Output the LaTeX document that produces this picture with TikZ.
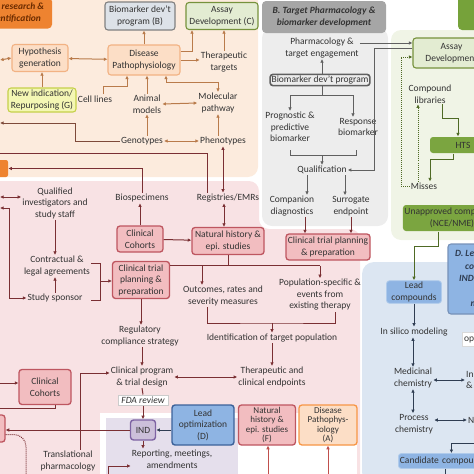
\documentclass[tikz,border=0pt]{standalone}
\usepackage{fontspec}
\setmainfont{Carlito}
\usepackage{xcolor}
\usetikzlibrary{arrows.meta,positioning}
\definecolor{peachbg}{HTML}{FCEBDD}
\definecolor{pinkbg}{HTML}{F8E2E4}
\definecolor{graybg}{HTML}{EDEDED}
\definecolor{greenbg}{HTML}{F0F4E6}
\definecolor{bluebg}{HTML}{DCE6F2}
\definecolor{lavbg}{HTML}{E5DFEC}
\definecolor{peachfill}{HTML}{FCDEC6}
\definecolor{peachline}{HTML}{F2B283}
\definecolor{orangehdr}{HTML}{EE8330}
\definecolor{orangeline}{HTML}{F79646}
\definecolor{orangetxt}{HTML}{6B2B00}
\definecolor{bgrayfill}{HTML}{DDE2E8}
\definecolor{bgrayline}{HTML}{808080}
\definecolor{grayhdr}{HTML}{A6A6A6}
\definecolor{assayfill}{HTML}{E3ECD2}
\definecolor{assayline}{HTML}{76923C}
\definecolor{greenhdr}{HTML}{76A23A}
\definecolor{yellowfill}{HTML}{F4F7B4}
\definecolor{yellowline}{HTML}{C5D04A}
\definecolor{pinkfill}{HTML}{F2BDC0}
\definecolor{pinkline}{HTML}{BE5660}
\definecolor{bluefill}{HTML}{8EB4E3}
\definecolor{blueline}{HTML}{3C629A}
\definecolor{indfill}{HTML}{CCC0DA}
\definecolor{indline}{HTML}{7E63A3}
\definecolor{dkgreen}{HTML}{7BA540}
\definecolor{txtdark}{HTML}{333333}
\definecolor{olinkc}{HTML}{B97B4B}
\definecolor{brownc}{HTML}{7E4A3A}
\definecolor{plinkc}{HTML}{7A2F33}
\definecolor{redc}{HTML}{C0504D}
\definecolor{glinkc}{HTML}{606060}
\definecolor{gnlinkc}{HTML}{4F6A25}
\definecolor{blinkc}{HTML}{2F3D52}

\begin{document}
\begin{tikzpicture}[
        x=1pt, y=-1pt,
        >={Latex[length=3.6pt,width=3.6pt]},
        font=\fontsize{9.5}{11.5}\selectfont,
        every node/.append style={text=txtdark},
        box/.style={draw, rounded corners=3pt, line width=1.1pt, align=center, inner sep=1.5pt},
        peachbox/.style={box, draw=peachline, fill=peachfill},
        pinkbox/.style={box, draw=pinkline, fill=pinkfill, line width=1.3pt},
        bluebox/.style={box, draw=blueline, fill=bluefill},
        greenbox/.style={box, draw=none, fill=dkgreen},
        item/.style={align=center, inner sep=1pt},
        hdr/.style={rounded corners=4pt, align=center, inner sep=3pt,
            font=\fontsize{9.5}{11.5}\selectfont\bfseries\itshape},
        olink/.style={->, line width=1pt, draw=olinkc},
        oboth/.style={olink, <->},
        plink/.style={->, line width=1pt, draw=plinkc},
        pboth/.style={plink, <->},
        glink/.style={->, line width=1pt, draw=glinkc},
        gnlink/.style={->, line width=1pt, draw=gnlinkc},
        blink/.style={->, line width=1pt, draw=blinkc},
        bboth/.style={blink, <->}
    ]
    \useasboundingbox (0,0) rectangle (474,474);
    \clip (0,0) rectangle (474,474);

    % background panels
    \fill[peachbg, rounded corners=10pt] (-10,-10) rectangle (258,177);
    \fill[pinkbg, rounded corners=10pt] (-10,181) -- (259,181) -- (259,229) -- (360,229) -- (360,484) -- (-10,484) -- cycle;
    \fill[graybg, rounded corners=10pt] (262,28) rectangle (388,226);
    \fill[greenbg, rounded corners=10pt] (391,30) rectangle (484,240);
    \fill[bluebg, rounded corners=12pt] (362,262) rectangle (484,484);
    \fill[white] (100,413) rectangle (357,484);
    \fill[lavbg] (106,418) rectangle (238,484);

    % A. disease research
    \node[hdr, fill=orangehdr, text=orangetxt, minimum width=101pt, minimum height=31pt] (hdrA) at (1.5,13) {A. Disease research \&\\target identification};
    \node[box, draw=bgrayline, fill=bgrayfill, minimum width=70pt, minimum height=28pt] (bioB) at (140,16) {Biomarker dev't\\program (B)};
    \node[box, draw=assayline, fill=assayfill, minimum width=72pt, minimum height=27pt] (assayC) at (222,16) {Assay\\Development (C)};
    \node[peachbox, minimum width=56pt, minimum height=27pt] (hyp) at (40,58) {Hypothesis\\generation};
    \node[peachbox, minimum width=72pt, minimum height=30pt] (dis) at (144,60) {Disease\\Pathophysiology};
    \node[item] (ther) at (224,62) {Therapeutic\\targets};
    \node[box, draw=yellowline, fill=yellowfill, minimum width=68pt, minimum height=24pt] (newG) at (42,100) {New indication/\\Repurposing (G)};
    \node[item] (cell) at (95,99) {Cell lines};
    \node[item] (anim) at (147,104) {Animal\\models};
    \node[item] (mol) at (218,103) {Molecular\\pathway};
    \node[item] (geno) at (142,141) {Genotypes};
    \node[item] (pheno) at (223,141) {Phenotypes};
    \coordinate (eL1) at (0,60);
    \coordinate (eG) at (0,123);

    \draw[oboth] (eL1) -- (hyp.west);
    \draw[oboth] (hyp) -- (dis);
    \draw[olink] (dis.north) -- (dis.north |- bioB.south);
    \draw[olink] ([yshift=9pt]dis.east) -| ([xshift=-30pt]assayC.south);
    \draw[olink] (dis.east) -- (dis.east -| ther.west);
    \draw[olink] (ther.north) -- (ther.north |- assayC.south);
    \draw[olink] (newG.north) -- (newG.north |- hyp.south);
    \draw[olink] ([xshift=8pt]cell.north) -- ++(0,-8) -| ([xshift=-17pt]dis.south);
    \draw[olink] (anim.north) -- (anim.north |- dis.south);
    \draw[oboth] ([xshift=22pt]dis.south) -- ++(0,7) -| (mol.north);
    \draw[oboth] (anim.east) -- (mol.west);
    \draw[olink] (geno.north -| anim) -- (anim.south);
    \draw[olink] (pheno.north -| mol) -- (mol.south);
    \draw[oboth] (geno) -- (pheno);
    \draw[olink, draw=brownc] (geno.west) -| ([xshift=75pt]eG) -- (eG);

    % F. clinical
    \node[fill=orangehdr, minimum width=18pt, minimum height=17pt, rounded corners=2pt] (orgL) at (-1,168.5) {};
    \node[item] (bio) at (142,198) {Biospecimens};
    \node[item] (reg) at (228,198) {Registries/EMRs};
    \node[item] (qual) at (55,203) {Qualified\\investigators and\\study staff};
    \node[item] (contr) at (57,266) {Contractual \&\\legal agreements};
    \node[item] (spons) at (55,298) {Study sponsor};
    \node[pinkbox, minimum width=46pt, minimum height=26pt] (cohA) at (140,239) {Clinical\\Cohorts};
    \node[pinkbox, minimum width=57pt, minimum height=37pt] (ctpA) at (141,280) {Clinical trial\\planning \&\\preparation};
    \node[pinkbox, minimum width=72pt, minimum height=27pt] (natA) at (228,241) {Natural history \&\\epi. studies};
    \node[pinkbox, minimum width=84pt, minimum height=26pt] (ctpB) at (328,247) {Clinical trial planning\\\& preparation};
    \node[item] (outc) at (223,296) {Outcomes, rates and\\severity measures};
    \node[item] (popn) at (320,295) {Population-specific \&\\events from\\existing therapy};
    \node[item] (ident) at (272,338) {Identification of target population};
    \node[item] (regc) at (140,336) {Regulatory\\compliance strategy};
    \node[item] (cprog) at (142,377) {Clinical program\\\& trial design};
    \node[item] (tend) at (272,377) {Therapeutic and\\clinical endpoints};
    \node[draw=gray!40, fill=white, inner sep=2pt, minimum width=50pt, font=\fontsize{9.5}{11.5}\selectfont\itshape] (fda) at (143,400) {FDA review};
    \node[pinkbox, minimum width=52pt, minimum height=35pt] (cohB) at (45,387) {Clinical\\Cohorts};
    \node[pinkbox, minimum width=18pt, minimum height=27pt] (stubP) at (-4,428.5) {};
    \node[item] (trans) at (68,461) {Translational\\pharmacology};
    \node[item] (repo) at (172,459) {Reporting, meetings,\\amendments};
    \node[box, draw=indline, fill=indfill, line width=1.4pt, minimum width=25pt, minimum height=20pt] (ind) at (143,430) {IND};
    \node[bluebox, line width=1.4pt, minimum width=62pt, minimum height=40pt] (leadD) at (203,425) {Lead\\optimization\\(D)};
    \node[pinkbox, minimum width=57pt, minimum height=40pt, font=\fontsize{9}{9.5}\selectfont] (natF) at (267,425) {Natural\\history \&\\epi. studies\\(F)};
    \node[box, draw=orangeline, fill=peachfill, line width=1.3pt, minimum width=58pt, minimum height=40pt, font=\fontsize{9}{9.5}\selectfont] (disA) at (328,425) {Disease\\Pathophys-\\iology\\(A)};
    \coordinate (eR) at (0,153);
    \coordinate (eQ) at (0,197);
    \coordinate (eS) at (0,208);
    \coordinate (eSx) at (9,208);
    \coordinate (bk) at (100,281);
    \coordinate (bus) at ([yshift=-5pt]ctpA.north east);
    \coordinate (jn) at (272,323);
    \coordinate (eC) at (0,383);
    \coordinate (eC2) at (0,408);
    \coordinate (eB) at (108,480);
    \coordinate (eD) at (26,480);
    \coordinate (eF) at (268,480);
    \coordinate (eA) at (328,480);

    \draw[plink, -] ([xshift=-21pt]reg.north) |- (eR);
    \draw[pboth] (pheno.south) -- (pheno.south |- reg.north);
    \draw[plink] (bio.north) |- (orgL.east);
    \draw[plink] (cohA.north) -- (cohA.north |- bio.south);
    \draw[plink] (cohA) -- (natA);
    \draw[pboth] ([xshift=-4pt]reg.south) -- ([xshift=-4pt]natA.north);
    \draw[pboth] (eQ) -- (eQ -| qual.west);
    \draw[pboth] (eS) -| (eSx |- spons.west) -- (spons.west);
    \draw[plink] (qual.south) -- (qual.south |- contr.north);
    \draw[plink] (spons.north) -- (spons.north |- contr.south);
    \draw[plink, -] (bk) ++(-9,-18) -| ++(9,37) -- ++(-9,0);
    \draw[plink] (bk) -- (ctpA.west |- bk);
    \draw[plink, -] (bus) -- (bus -| popn.north);
    \draw[plink, -] (natA.south) -- (natA.south |- bus);
    \draw[plink] (bus -| 202,0) -- (outc.north -| 202,0);
    \draw[plink] (bus -| popn.north) -- (popn.north);
    \draw[plink, -] ([xshift=-16pt]outc.south) |- (jn) -| ([xshift=15pt]popn.south);
    \draw[plink] (jn) -- (ident.north);
    \draw[plink] (ctpA.south) -- (ctpA.south |- regc.north);
    \draw[plink] (regc.south -| cprog) -- (cprog.north);
    \draw[plink] (ident.south) -- (ident.south |- tend.north);
    \draw[pboth] (cprog) -- (tend);
    \draw[plink, -] (cprog.south) -- (fda.north);
    \draw[plink] (fda.south) -- (ind.north);
    \draw[plink] (ind.south) -- (ind.south |- repo.north);
    \draw[plink] (ind.west) -- (stubP.east |- ind.west);
    \draw[blink] (leadD.west |- ind) -- (ind.east);
    \draw[plink] (eC) -- (cohB.west |- eC);
    \draw[plink, -] ([xshift=10pt]cohB.south) |- (eC2);
    \draw[plink] ([xshift=12pt]trans.north) |- ([yshift=4pt]cprog.west);
    \draw[plink] (eB) |- ([yshift=-7pt]repo.west);
    \draw[plink, -, densely dotted, rounded corners=12pt] ([yshift=-6pt]stubP.east) -| (eD);
    \draw[plink, draw=redc] (eF) -- (eF |- natF.south);
    \draw[plink, draw=redc] (eA) -- (eA |- disA.south);

    % B. target pharmacology
    \node[hdr, fill=grayhdr, minimum width=124pt, minimum height=32pt] (hdrB) at (324,17) {B. Target Pharmacology \&\\biomarker development};
    \node[item] (pharm) at (322,48) {Pharmacology \&\\target engagement};
    \node[box, draw=glinkc, fill=graybg!60!gray!30, line width=1.6pt] (bprog) at (320,80) {Biomarker dev't program};
    \node[item] (prog) at (290,127) {Prognostic \&\\predictive\\biomarker};
    \node[item] (resp) at (358,127) {Response\\biomarker};
    \node[item] (qualif) at (322,170) {Qualification};
    \node[item] (comp) at (292,206) {Companion\\diagnostics};
    \node[item] (surr) at (351,206) {Surrogate\\endpoint};
    \coordinate (pb) at (322,95);
    \coordinate (qb) at (322,155);
    \coordinate (qc) at (374,170);

    \draw[glink] (bprog.north -| pharm) -- (pharm.south);
    \draw[glink, -] (bprog.south -| pb) -- (pb);
    \draw[glink] (pb) -| (prog.north);
    \draw[glink] (pb) -| ([xshift=-5pt]resp.north);
    \draw[glink, -] (qb) ++(-32,-5) |- ++(66,5) -- ++(0,-5);
    \draw[glink] (qb) -- (qualif.north);
    \draw[glink] ([xshift=-15pt]qualif.south) -- ([xshift=-15pt]qualif.south |- comp.north);
    \draw[glink] ([xshift=23pt]qualif.south) -- ([xshift=23pt]qualif.south |- surr.north);
    \draw[plink] (comp.south -| 305,0) -- (ctpB.north -| 305,0);
    \draw[plink] (surr.south) -- (surr.south |- ctpB.north);

    % C. assay development
    \node[fill=greenhdr, rounded corners=4pt, minimum width=40pt, minimum height=36pt] (hdrC) at (478,12) {};
    \node[box, draw=assayline, fill=assayfill, minimum width=77pt, minimum height=30pt] (assayD) at (451.5,53) {Assay\\Development};
    \node[item] (complib) at (430,94) {Compound\\libraries};
    \node[greenbox, minimum width=66pt, minimum height=16pt] (hts) at (463,145) {HTS};
    \node[item] (misses) at (424,186) {Misses};
    \node[greenbox, minimum width=86pt, minimum height=26pt] (unap) at (452,218) {Unapproved compounds\\(NCE/NME)};
    \coordinate (dtop) at (401,57);

    \draw[glink] ([yshift=5pt]pharm.east) -- ([yshift=10pt]assayD.west);
    \draw[glink] ([yshift=5pt]assayD.west) -| (qc) -- (qualif.east);
    \draw[gnlink] ([xshift=12pt]complib.south) -- ++(0,14) -| ([xshift=-5pt]hts.north);
    \draw[gnlink] ([xshift=-10pt]hts.south) -- ++(0,6) -| ([xshift=6pt]misses.north);
    \draw[gnlink, densely dotted] (misses.west) -| (dtop) -- (dtop -| assayD.west);
    \draw[gnlink, densely dotted] ([xshift=-6pt]misses.north) -- ([xshift=-6pt]misses.north |- complib.south);

    % D. lead optimization
    \node[box, draw=blueline!70, fill=bluefill, minimum width=104pt, minimum height=70pt, font=\fontsize{9.5}{12.5}\selectfont\bfseries\itshape, text=blinkc] (hdrD) at (500,279) {D. Lead optimization \&\\conceptualization\\IND-enabling studies\\for\\manufacturing};
    \node[box, draw=bluefill!70!white, fill=bluefill, line width=0.8pt, minimum width=55pt, minimum height=22pt] (lcomp) at (414,292) {Lead\\compounds};
    \node[item] (insil) at (414,332) {In silico modeling};
    \node[draw=gray!30, fill=white, anchor=west, inner sep=2pt, minimum height=14pt] (optR) at (462,339) {optimization};
    \node[item] (medc) at (413,378) {Medicinal\\chemistry};
    \node[item, anchor=west, align=left] (medR) at (465,380) {In vitro\\\& animal};
    \node[item] (proc) at (414,424) {Process\\chemistry};
    \node[item, anchor=west, align=left] (procR) at (467,420) {Nonclinical};
    \node[box, draw=bluefill!70!white, fill=bluefill, line width=0.8pt, anchor=west, text width=95pt, align=left, minimum height=15pt] (cand) at (398,461) {Candidate compounds};
    \coordinate (eRt) at (480,443);
    \coordinate (eCb) at (445,480);

    \draw[gnlink] ([xshift=-14pt]unap.south) -- ++(0,15) -| (lcomp.north);
    \draw[blink] (lcomp.south) -- (lcomp.south |- insil.north);
    \draw[bboth] (insil.south -| medc) -- (medc.north);
    \draw[bboth] (medc.south) -- (medc.south |- proc.north);
    \draw[bboth] (medc.east |- medR.west) -- (medR.west);
    \draw[bboth] (proc.east |- procR.west) -- (procR.west);
    \draw[blink] (eRt) -| ([xshift=4pt]cand.north);
    \draw[blink] (cand.south -| eCb) -- (eCb);
\end{tikzpicture}
\end{document}
